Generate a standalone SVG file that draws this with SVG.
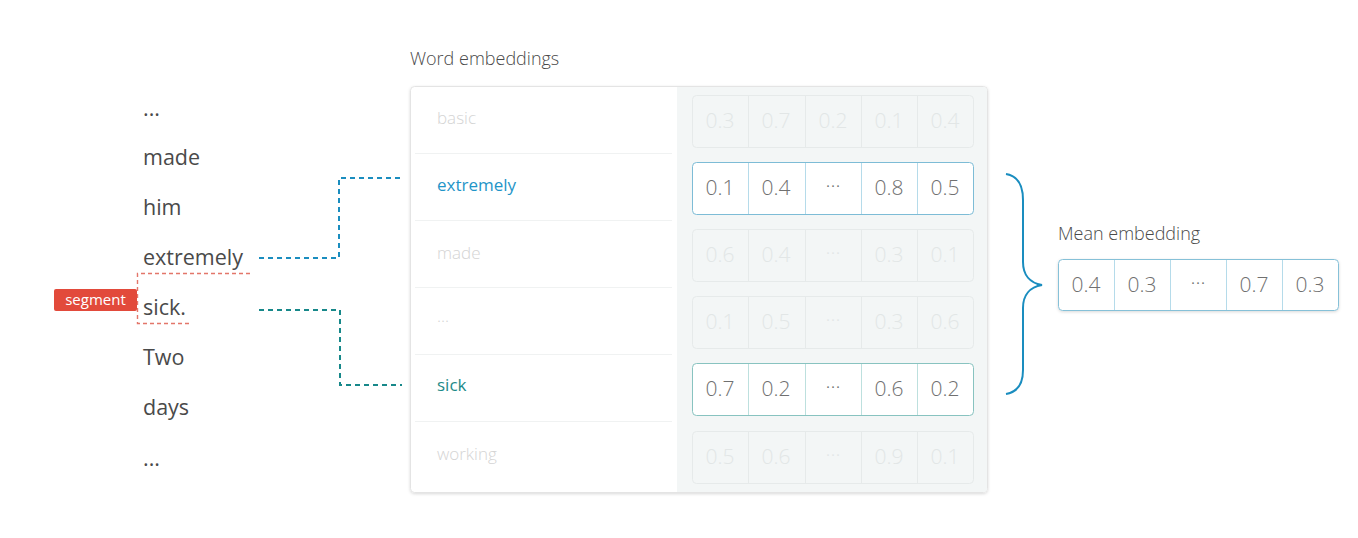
<svg xmlns="http://www.w3.org/2000/svg" width="1358" height="538" viewBox="0 0 1358 538">
<defs>
<filter id="sh" x="-5%" y="-5%" width="110%" height="115%">
<feDropShadow dx="0" dy="1" stdDeviation="1.5" flood-color="#000" flood-opacity="0.15"/>
</filter>
<style>
text{font-family:"Open Sans","Liberation Sans",sans-serif}
.w{font-size:21.5px;fill:#4a4a4a}
.t{font-size:18px;fill:#4a4a4a;font-weight:300}
.lbl{font-size:17px;fill:#d4d4d4;font-weight:300}
.v{font-size:21px;fill:#707070;font-weight:300;text-anchor:middle}
.vf{font-size:21px;fill:#e2e6e6;font-weight:300;text-anchor:middle}
.fbox{fill:none;stroke:#e6eaea;stroke-width:1}
.sep{stroke:#f0f2f2;stroke-width:1}
</style>
</defs>
<rect width="1358" height="538" fill="#fff"/>

<g id="sentence">
<text class="w" x="143" y="116">...</text>
<text class="w" x="143" y="165">made</text>
<text class="w" x="143" y="215">him</text>
<text class="w" x="143" y="265">extremely</text>
<text class="w" x="143" y="315">sick.</text>
<text class="w" x="143" y="365">Two</text>
<text class="w" x="143" y="415">days</text>
<text class="w" x="143" y="466">...</text>
</g>

<g id="segment">
<path d="M250,273.5 H137.5 V323.5 H190" fill="none" stroke="#e3766a" stroke-width="1.4" stroke-dasharray="4,3"/>
<rect x="54" y="289" width="83" height="22" rx="2" fill="#e24a3b"/>
<text x="95.5" y="305" font-size="15" fill="#fff" text-anchor="middle">segment</text>
</g>

<g id="connectors" fill="none" stroke-width="2" stroke-dasharray="5,4">
<path d="M259,258 H339 V178 H403" stroke="#1a8dbf"/>
<path d="M259,310 H340 V385 H402" stroke="#17888a"/>
</g>

<g id="word-embeddings">
<text class="t" x="410" y="65">Word embeddings</text>
<rect x="410.5" y="86.5" width="577" height="406" rx="4" fill="#fff" stroke="#e4e4e4" filter="url(#sh)"/>
<path d="M677,87 H983.5 A3.5,3.5 0 0 1 987,90.5 V488.5 A3.5,3.5 0 0 1 983.5,492 H677 Z" fill="#f3f6f6"/>
<g class="sep">
<line x1="415" y1="153.5" x2="672" y2="153.5"/>
<line x1="415" y1="220.5" x2="672" y2="220.5"/>
<line x1="415" y1="287.5" x2="672" y2="287.5"/>
<line x1="415" y1="354.5" x2="672" y2="354.5"/>
<line x1="415" y1="421.5" x2="672" y2="421.5"/>
</g>

<g id="row-basic">
<text class="lbl" x="437" y="124">basic</text>
<rect class="fbox" x="692.5" y="95.5" width="281" height="52" rx="4"/>
<path class="fbox" d="M748.5,96 V147 M805.5,96 V147 M861.5,96 V147 M917.5,96 V147"/>
<text class="vf" x="720" y="128">0.3</text><text class="vf" x="776" y="128">0.7</text><text class="vf" x="833" y="128">0.2</text><text class="vf" x="889" y="128">0.1</text><text class="vf" x="945" y="128">0.4</text>
</g>

<g id="row-extremely">
<text x="437" y="191" font-size="17" fill="#1f95c8">extremely</text>
<rect x="692.5" y="162.5" width="281" height="52" rx="4" fill="#fff" stroke="#7dbcd6"/>
<path d="M748.5,163 V214 M805.5,163 V214 M861.5,163 V214 M917.5,163 V214" stroke="#b5dbea" fill="none"/>
<text class="v" x="720" y="195">0.1</text><text class="v" x="776" y="195">0.4</text><text class="v" x="833" y="193" font-size="14">···</text><text class="v" x="889" y="195">0.8</text><text class="v" x="945" y="195">0.5</text>
</g>

<g id="row-made">
<text class="lbl" x="437" y="259">made</text>
<rect class="fbox" x="692.5" y="229.5" width="281" height="52" rx="4"/>
<path class="fbox" d="M748.5,230 V281 M805.5,230 V281 M861.5,230 V281 M917.5,230 V281"/>
<text class="vf" x="720" y="262">0.6</text><text class="vf" x="776" y="262">0.4</text><text class="vf" x="833" y="260" font-size="14">···</text><text class="vf" x="889" y="262">0.3</text><text class="vf" x="945" y="262">0.1</text>
</g>

<g id="row-dots">
<text class="lbl" x="437" y="322">...</text>
<rect class="fbox" x="692.5" y="296.5" width="281" height="52" rx="4"/>
<path class="fbox" d="M748.5,297 V348 M805.5,297 V348 M861.5,297 V348 M917.5,297 V348"/>
<text class="vf" x="720" y="329">0.1</text><text class="vf" x="776" y="329">0.5</text><text class="vf" x="833" y="327" font-size="14">···</text><text class="vf" x="889" y="329">0.3</text><text class="vf" x="945" y="329">0.6</text>
</g>

<g id="row-sick">
<text x="437" y="391" font-size="17" fill="#1d8a88">sick</text>
<rect x="692.5" y="363.5" width="281" height="52" rx="4" fill="#fff" stroke="#88c3c0"/>
<path d="M748.5,364 V415 M805.5,364 V415 M861.5,364 V415 M917.5,364 V415" stroke="#bde0de" fill="none"/>
<text class="v" x="720" y="396">0.7</text><text class="v" x="776" y="396">0.2</text><text class="v" x="833" y="394" font-size="14">···</text><text class="v" x="889" y="396">0.6</text><text class="v" x="945" y="396">0.2</text>
</g>

<g id="row-working">
<text class="lbl" x="437" y="460">working</text>
<rect class="fbox" x="692.5" y="431.5" width="281" height="52" rx="4"/>
<path class="fbox" d="M748.5,432 V483 M805.5,432 V483 M861.5,432 V483 M917.5,432 V483"/>
<text class="vf" x="720" y="464">0.5</text><text class="vf" x="776" y="464">0.6</text><text class="vf" x="833" y="462" font-size="14">···</text><text class="vf" x="889" y="464">0.9</text><text class="vf" x="945" y="464">0.1</text>
</g>
</g>

<g id="brace">
<path d="M1006,174 C1018,176 1023,186 1023,200 V262 C1023,275 1030,283 1042,285 C1030,287 1023,295 1023,308 V370 C1023,384 1018,392 1006,394" fill="none" stroke="#1a8dbf" stroke-width="2"/>
</g>

<g id="mean-embedding">
<text class="t" x="1058" y="240">Mean embedding</text>
<rect x="1058.5" y="259.5" width="280" height="51" rx="4" fill="#fff" stroke="#86c1d8" filter="url(#sh)"/>
<path d="M1114.5,260 V310 M1170.5,260 V310 M1226.5,260 V310 M1282.5,260 V310" stroke="#b5dbea" fill="none"/>
<text class="v" x="1086" y="292">0.4</text><text class="v" x="1142" y="292">0.3</text><text class="v" x="1198" y="290" font-size="14">···</text><text class="v" x="1254" y="292">0.7</text><text class="v" x="1310" y="292">0.3</text>
</g>
</svg>
